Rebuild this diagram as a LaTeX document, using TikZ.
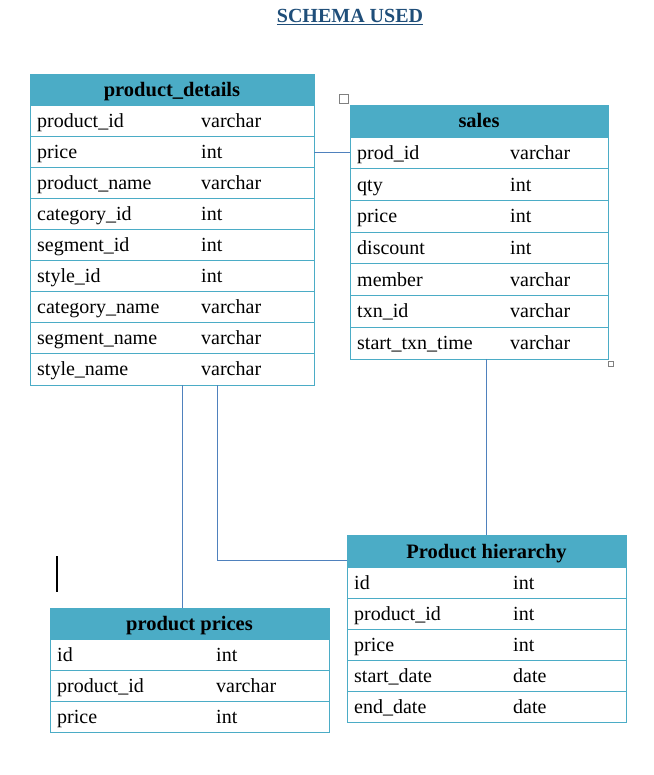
\documentclass[tikz,border=0pt]{standalone}
\usepackage{fontspec}
\setmainfont{Liberation Serif}
\usetikzlibrary{calc}
\definecolor{hdr}{HTML}{4BACC6}
\definecolor{bord}{HTML}{4BACC6}
\definecolor{conn}{HTML}{4F81BD}
\definecolor{ttl}{HTML}{1F4E79}
\tikzset{
  hdrbox/.style={fill=hdr,draw=bord,line width=0.8pt},
  rowbox/.style={draw=bord,line width=0.8pt,fill=white},
  cell/.style={anchor=base west,font=\fontsize{20}{20}\selectfont,inner sep=0pt},
  htxt/.style={anchor=base,font=\fontsize{20.5}{21}\selectfont\bfseries,inner sep=0pt},
  link/.style={draw=conn,line width=0.8pt}
}
% \mytable{name}{x1}{x2}{ytop}{hh}{rh}{col2}{title}{rows}
\newcommand{\mytable}[9]{%
  \path[hdrbox] (#2,#4) rectangle (#3,#4+#5);
  \node[htxt] (#1-h) at ({(#2+#3)/2},#4+#5/2+7) {#8};
  \foreach [count=\i] \a/\b in {#9} {
    \path[rowbox] (#2,{#4+#5+(\i-1)*#6}) rectangle (#3,{#4+#5+\i*#6});
    \node[cell] (#1-\i) at (#2+7,{#4+#5+(\i-0.5)*#6+6.5}) {\a};
    \node[cell] at (#7,{#4+#5+(\i-0.5)*#6+6.5}) {\b};
  }
}
\begin{document}
\begin{tikzpicture}[x=1pt,y=-1pt]
\useasboundingbox (0,0) rectangle (653,775);
\node[font=\fontsize{20}{20}\selectfont\bfseries,text=ttl,inner sep=0pt,anchor=base] (title) at (350,23) {\underline{SCHEMA USED}};
\mytable{pd}{30}{314}{74}{31}{31.1}{201}{product\_details}{product\_id/varchar,price/int,product\_name/varchar,category\_id/int,segment\_id/int,style\_id/int,category\_name/varchar,segment\_name/varchar,style\_name/varchar}
\mytable{sa}{350}{608}{105}{32}{31.7}{510}{sales}{prod\_id/varchar,qty/int,price/int,discount/int,member/varchar,txn\_id/varchar,start\_txn\_time/varchar}
\mytable{ph}{347}{626}{535}{32}{31}{513}{Product hierarchy}{id/int,product\_id/int,price/int,start\_date/date,end\_date/date}
\mytable{pp}{50}{329}{608}{31}{31}{216}{product prices}{id/int,product\_id/varchar,price/int}
\coordinate (pdbot1) at (182,385);
\coordinate (pdbot2) at (217,385);
\coordinate (sabot) at (486,359);
\draw[link] (314,152) -- (350,152);
\draw[link] (pdbot1) -- (182,608);
\draw[link] (pdbot2) -- (217,560) -- (347,560);
\draw[link] (sabot) -- (486,535);
\draw[line width=1.2pt] (57,556) -- (57,592);
\draw[gray,line width=0.5pt] (339,94) rectangle (348,103);
\draw[gray,line width=0.5pt] (608,361) rectangle (613,366);
\end{tikzpicture}
\end{document}
